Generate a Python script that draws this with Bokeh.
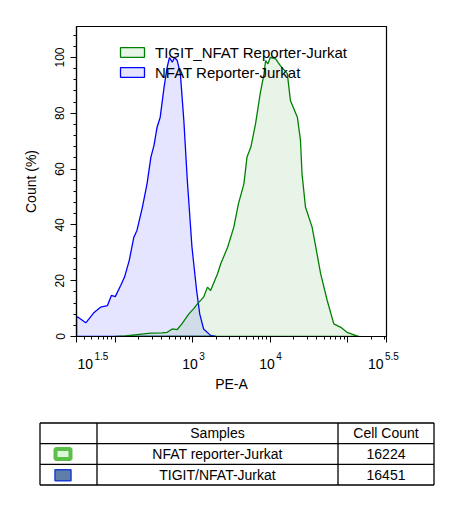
import numpy as np
from bokeh.plotting import figure
from bokeh.models import (Range1d, FixedTicker, SingleIntervalTicker,
                          Legend, LegendItem, LinearScale)
from bokeh.embed import file_html
from bokeh.resources import INLINE
from bokeh.core.properties import value

# ---------------- data ----------------
series_names = ["TIGIT_NFAT Reporter-Jurkat", "NFAT Reporter-Jurkat"]

# NFAT Reporter-Jurkat (blue): log10(PE-A) and Count (%)
blue_log = [1.5, 1.52, 1.62, 1.72, 1.81, 1.9, 1.95, 2.0, 2.07, 2.12, 2.18, 2.24,
            2.28, 2.35, 2.41, 2.46, 2.5, 2.54, 2.58, 2.63, 2.67, 2.70, 2.735,
            2.765, 2.80, 2.84, 2.885, 2.93, 2.99, 3.05, 3.09, 3.14, 3.23, 3.3]
blue_pct = [7.0, 6.9, 4.9, 8.4, 10.5, 11.1, 14.7, 14.3, 18.3, 21.3, 27.2, 35.6,
            38.0, 46.3, 54.7, 64.3, 68.5, 75.0, 78.6, 89.4, 96.5, 100.0, 98.3,
            100.0, 98.9, 94.2, 77.4, 55.9, 32.0, 16.5, 8.1, 2.7, 0.4, 0.0]

# TIGIT_NFAT Reporter-Jurkat (green)
green_log = [2.0, 2.13, 2.28, 2.46, 2.60, 2.67, 2.735, 2.80, 2.86, 2.95, 3.01,
             3.06, 3.14, 3.19, 3.23, 3.32, 3.36, 3.45, 3.53, 3.59, 3.66, 3.70,
             3.75, 3.81, 3.87, 3.92, 3.94, 3.97, 4.0, 4.07, 4.13, 4.22, 4.26,
             4.35, 4.39, 4.41, 4.455, 4.54, 4.58, 4.65, 4.735, 4.82, 4.91, 4.99,
             5.1, 5.15]
green_pct = [0.0, 0.2, 0.7, 1.2, 1.3, 1.5, 2.7, 2.5, 4.5, 8.1, 9.9,
             11.7, 14.1, 17.7, 16.5, 22.5, 26.0, 32.0, 39.2, 47.6, 54.7, 64.3,
             67.9, 76.2, 87.0, 94.2, 98.9, 97.7, 100.0, 99.5, 97.1, 94.2, 84.6,
             78.6, 70.3, 58.3, 46.3, 39.2, 33.2, 22.5, 12.9, 4.5, 3.3, 1.5,
             0.4, 0.0]

x_lo_exp, x_hi_exp = 1.5, 5.5
x_major_exp = [1.5, 2, 3, 4, 5, 5.5]
x_label_exp = ["1.5", "3", "4", "5.5"]
x_axis_title = "PE-A"
y_axis_title = "Count (%)"
y_ticks_interval = 20

table_header = ["Samples", "Cell Count"]
table_samples = ["NFAT reporter-Jurkat", "TIGIT/NFAT-Jurkat"]
table_counts = ["16224", "16451"]

FONT = "Liberation Sans"
W = 469
FRAME_L, FRAME_R, FRAME_T, FRAME_B = 76, 386, 26, 336
TOP_H = 346

# ---------------- histogram figure ----------------
p = figure(width=W, height=TOP_H, output_backend="svg", toolbar_location=None,
           x_axis_type="log", x_range=Range1d(10**x_lo_exp, 10**x_hi_exp),
           y_range=Range1d(0, 111.1),
           min_border_left=FRAME_L, min_border_right=W - FRAME_R,
           min_border_top=FRAME_T, min_border_bottom=TOP_H - FRAME_B)
p.background_fill_color = "white"
p.border_fill_color = "white"
p.outline_line_color = "black"
p.outline_line_width = 1.2
p.xgrid.visible = False
p.ygrid.visible = False

def closed(logs, pcts):
    xs = [10**v for v in logs]
    return [xs[0]] + xs + [xs[-1]], [0.0] + list(pcts) + [0.0]

bx, by = closed(blue_log, blue_pct)
gx, gy = closed(green_log, green_pct)

rb = p.patch(bx, by, fill_color="#0000ff", fill_alpha=0.10,
             line_color="#0000ff", line_width=1.3)
rg = p.patch(gx, gy, fill_color="#008000", fill_alpha=0.09,
             line_color="#008000", line_width=1.3)

legend = Legend(items=[LegendItem(label=series_names[0], renderers=[rg]),
                       LegendItem(label=series_names[1], renderers=[rb])],
                location=(41, 255), border_line_color=None,
                background_fill_alpha=0, padding=0, margin=0, spacing=2,
                glyph_width=30, glyph_height=12, label_height=18,
                label_standoff=8, label_text_font=FONT,
                label_text_font_size="15px", label_text_color="black")
p.add_layout(legend)

# x axis (ticks only; labels drawn in the strip below)
minor = []
for d in range(1, 6):
    for k in range(2, 10):
        v = k * 10**d
        if 10**x_lo_exp < v < 10**x_hi_exp:
            minor.append(v)
xa = p.xaxis[0]
major_vals = [10**e for e in x_major_exp]
xa.ticker = FixedTicker(ticks=major_vals, minor_ticks=minor)
xa.major_label_overrides = {v: "" for v in major_vals}
xa.major_label_text_font_size = "1px"
xa.major_label_standoff = 0
xa.major_tick_in = 0
xa.major_tick_out = 6
xa.minor_tick_in = 0
xa.minor_tick_out = 3
xa.axis_line_width = 1.2
xa.axis_line_color = "black"
xa.major_tick_line_color = "black"
xa.minor_tick_line_color = "black"

# y axis
ya = p.yaxis[0]
ya.ticker = SingleIntervalTicker(interval=y_ticks_interval, num_minor_ticks=5)
ya.major_label_orientation = "vertical"
ya.major_label_text_font = FONT
ya.major_label_text_font_size = "12px"
ya.major_label_text_color = "black"
ya.major_label_standoff = 6
ya.axis_label = y_axis_title
ya.axis_label_text_font = FONT
ya.axis_label_text_font_size = "14px"
ya.axis_label_text_font_style = "normal"
ya.axis_label_text_color = "black"
ya.axis_label_standoff = 14
ya.major_tick_in = 0
ya.major_tick_out = 6
ya.minor_tick_in = 0
ya.minor_tick_out = 3
ya.axis_line_width = 1.2
ya.axis_line_color = "black"
ya.major_tick_line_color = "black"
ya.minor_tick_line_color = "black"

# ---------------- strip: x tick labels, x title, table ----------------
H2 = 510 - TOP_H
px_per_decade = (FRAME_R - FRAME_L) / (x_hi_exp - x_lo_exp)
s_lo = 10**(x_lo_exp - FRAME_L / px_per_decade)
s_hi = 10**(x_hi_exp + (W - FRAME_R) / px_per_decade)
t = figure(width=W, height=H2, output_backend="svg", toolbar_location=None,
           x_axis_type="log", x_range=Range1d(s_lo, s_hi),
           y_range=Range1d(510, TOP_H),
           extra_x_ranges={"px": Range1d(0, W)},
           extra_x_scales={"px": LinearScale()},
           x_axis_location=None, y_axis_location=None,
           min_border_left=0, min_border_right=0,
           min_border_top=0, min_border_bottom=0)
t.outline_line_color = None
t.background_fill_color = "white"
t.border_fill_color = "white"
t.xgrid.visible = False
t.ygrid.visible = False

label_shift = [16.5, 5, 4.5, -3]
lab_x = [10**float(e) for e in x_label_exp]
t.text(x=lab_x, y=[363] * len(lab_x), x_offset=label_shift,
       text=["10"] * len(lab_x), text_align="right", text_baseline="alphabetic",
       text_font=value(FONT), text_font_size="14px", text_color="black")
t.text(x=lab_x, y=[355.5] * len(lab_x), x_offset=[v + 1.5 for v in label_shift],
       text=x_label_exp, text_align="left", text_baseline="alphabetic",
       text_font=value(FONT), text_font_size="10px", text_color="black")
t.text(x=[10**((x_lo_exp + x_hi_exp) / 2)], y=[383], text=[x_axis_title],
       text_align="center", text_baseline="middle", text_font=value(FONT),
       text_font_size="14px", text_color="black")

L, R, T, B = 39.5, 433.5, 422.5, 484.5
c1, c2 = 96.5, 337.5
row_h = (B - T) / 3
rows = [T + row_h * (i + 0.5) for i in range(3)]
t.segment(x0=[L, c1, c2, R, L, L, L, L],
          y0=[T, T, T, T, T, T + row_h, T + 2 * row_h, B],
          x1=[L, c1, c2, R, R, R, R, R],
          y1=[B, B, B, B, T, T + row_h, T + 2 * row_h, B],
          line_color="black", line_width=1.3, x_range_name="px")

t.text(x=[(c1 + c2) / 2, (c2 + R) / 2], y=[rows[0]] * 2, text=table_header,
       text_align="center", text_baseline="middle", text_font=value(FONT),
       text_font_size="14px", text_color="black", x_range_name="px")
t.text(x=[(c1 + c2) / 2] * 2, y=rows[1:], text=table_samples,
       text_align="center", text_baseline="middle", text_font=value(FONT),
       text_font_size="14px", text_color="black", x_range_name="px")
t.text(x=[(c2 + R) / 2] * 2, y=rows[1:], text=table_counts,
       text_align="center", text_baseline="middle", text_font=value(FONT),
       text_font_size="14px", text_color="black", x_range_name="px")

sw_x = (L + c1) / 2 - 5.5
t.rect(x=[sw_x], y=[rows[1]], width=15, height=10, fill_color="#dcf8dc",
       line_color="#5cbf48", line_width=4, x_range_name="px")
t.rect(x=[sw_x], y=[rows[2] + 0.6], width=16, height=11, fill_color="#5f7fa8",
       line_color="#1a3fd0", line_width=1.5, x_range_name="px")

open("out.html", "w").write(file_html([p, t], INLINE))
